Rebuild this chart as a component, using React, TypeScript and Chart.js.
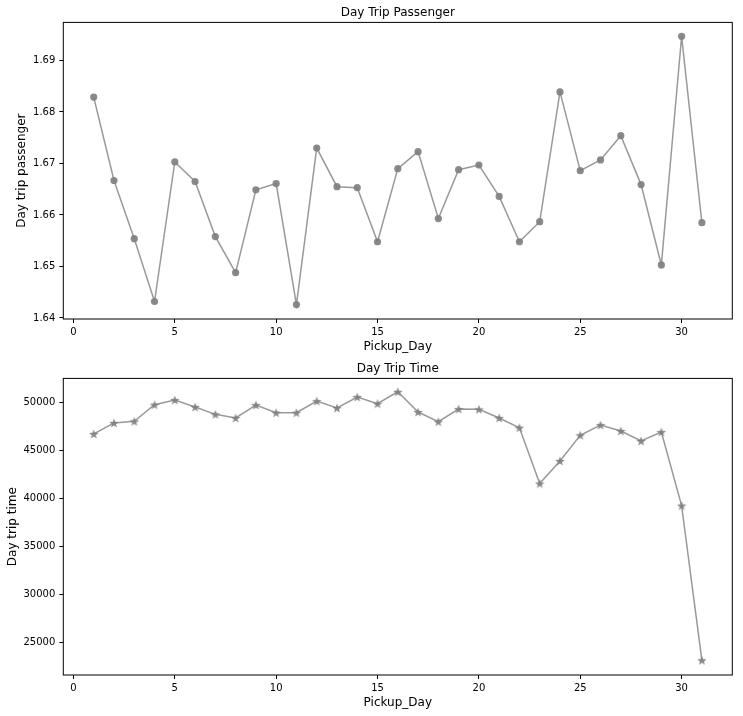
import React, { useEffect, useRef } from 'react';
import { Chart, registerables } from 'chart.js';

Chart.register(...registerables);

const days = [
  1, 2, 3, 4, 5, 6, 7, 8, 9, 10, 11, 12, 13, 14, 15, 16,
  17, 18, 19, 20, 21, 22, 23, 24, 25, 26, 27, 28, 29, 30, 31
];

const passengerValues = [
  1.6829, 1.6667, 1.6554, 1.6432, 1.6703, 1.6665, 1.6558, 1.6488,
  1.6649, 1.6661, 1.6426, 1.6730, 1.6655, 1.6653, 1.6548, 1.6690,
  1.6723, 1.6593, 1.6688, 1.6697, 1.6636, 1.6548, 1.6587, 1.6839,
  1.6686, 1.6707, 1.6754, 1.6659, 1.6503, 1.6947, 1.6585
];

const tripTimeValues = [
  46680, 47820, 47990, 49720, 50210, 49480, 48720, 48340,
  49690, 48890, 48890, 50100, 49380, 50520, 49830, 51070,
  48960, 47960, 49270, 49240, 48340, 47330, 41520, 43870,
  46540, 47610, 46990, 45950, 46880, 39230, 23130
];

const dayTicks = [0, 5, 10, 15, 20, 25, 30];
const passengerTicks = [1.64, 1.65, 1.66, 1.67, 1.68, 1.69];
const tripTimeTicks = [25000, 30000, 35000, 40000, 45000, 50000];

const LINE_GREY = 'rgba(128, 128, 128, 0.8)';
const MARK_GREY = 'rgba(128, 128, 128, 0.92)';
const FONT = "'DejaVu Sans', sans-serif";

// matplotlib style filled star marker
function makeStar(size: number, color: string): HTMLCanvasElement {
  const c = document.createElement('canvas');
  c.width = size;
  c.height = size;
  const ctx = c.getContext('2d')!;
  const cx = size / 2;
  const cy = size / 2 + 0.5;
  const outer = size / 2;
  const inner = outer * 0.42;
  ctx.beginPath();
  for (let i = 0; i < 10; i++) {
    const r = i % 2 === 0 ? outer : inner;
    const a = -Math.PI / 2 + (i * Math.PI) / 5;
    const px = cx + r * Math.cos(a);
    const py = cy + r * Math.sin(a);
    if (i === 0) ctx.moveTo(px, py);
    else ctx.lineTo(px, py);
  }
  ctx.closePath();
  ctx.fillStyle = color;
  ctx.fill();
  return c;
}

// box round the plot area, like matplotlib spines
const frameBox = {
  id: 'frameBox',
  afterDraw(chart: Chart) {
    const { ctx, chartArea: a } = chart;
    ctx.save();
    ctx.strokeStyle = '#000';
    ctx.lineWidth = 1;
    ctx.strokeRect(a.left, a.top, a.right - a.left, a.bottom - a.top);
    ctx.restore();
  }
};

interface Props {
  title: string;
  yLabel: string;
  values: number[];
  yTicks: number[];
  yMin: number;
  yMax: number;
  yTitlePad: number;
  decimals: number;
  marker: 'circle' | 'star';
  height: number;
  bottomPad: number;
}

const DayChart: React.FC<Props> = ({
  title, yLabel, values, yTicks, yMin, yMax, yTitlePad, decimals, marker, height, bottomPad
}) => {
  const canvasRef = useRef<HTMLCanvasElement>(null);

  useEffect(() => {
    if (!canvasRef.current) return;
    const pointStyle = marker === 'star' ? makeStar(10, MARK_GREY) : 'circle';

    const chart = new Chart(canvasRef.current, {
      type: 'line',
      data: {
        datasets: [{
          data: days.map((d, i) => ({ x: d, y: values[i] })),
          borderColor: LINE_GREY,
          borderWidth: 1.5,
          backgroundColor: MARK_GREY,
          pointBackgroundColor: MARK_GREY,
          pointBorderWidth: 0,
          pointRadius: 3.6,
          pointStyle: pointStyle as any,
          tension: 0,
          fill: false
        }]
      },
      options: {
        responsive: false,
        animation: false,
        events: [],
        layout: { padding: { top: 0, left: 0, right: 10.7, bottom: bottomPad } },
        plugins: {
          legend: { display: false },
          tooltip: { enabled: false },
          title: {
            display: true,
            text: title,
            fullSize: false,
            color: '#000',
            font: { family: FONT, size: 12, weight: 'normal' },
            padding: { top: 6, bottom: 2 }
          }
        },
        scales: {
          x: {
            type: 'linear',
            min: -0.5,
            max: 32.5,
            border: { display: false },
            grid: { drawOnChartArea: false, tickLength: 4, tickColor: '#000' },
            afterBuildTicks: (axis: any) => {
              axis.ticks = dayTicks.map(v => ({ value: v }));
            },
            afterFit: (axis: any) => {
              axis.height = 37;
            },
            ticks: {
              color: '#000',
              padding: 3,
              maxRotation: 0,
              font: { family: FONT, size: 10 },
              callback: (v: any) => String(v)
            },
            title: {
              display: true,
              text: 'Pickup_Day',
              color: '#000',
              font: { family: FONT, size: 12 },
              padding: { top: 0, bottom: 2 }
            }
          },
          y: {
            type: 'linear',
            min: yMin,
            max: yMax,
            border: { display: false },
            grid: { drawOnChartArea: false, tickLength: 4, tickColor: '#000' },
            afterBuildTicks: (axis: any) => {
              axis.ticks = yTicks.map(v => ({ value: v }));
            },
            afterFit: (axis: any) => {
              axis.width = 63.3;
            },
            ticks: {
              color: '#000',
              padding: 4,
              font: { family: FONT, size: 10 },
              callback: (v: any) => Number(v).toFixed(decimals)
            },
            title: {
              display: true,
              text: yLabel,
              color: '#000',
              font: { family: FONT, size: 12 },
              padding: { top: yTitlePad, bottom: 0 }
            }
          }
        }
      },
      plugins: [frameBox]
    });

    return () => {
      chart.destroy();
    };
  }, [title, yLabel, values, yTicks, yMin, yMax, yTitlePad, decimals, marker, bottomPad]);

  return <canvas ref={canvasRef} width={743} height={height} style={{ display: 'block' }} />;
};

export default function App() {
  useEffect(() => {
    document.body.style.margin = '0';
  }, []);

  return (
    <div style={{ position: 'relative', width: 743, height: 716, background: '#fff' }}>
      <div style={{ position: 'absolute', left: 0, top: 0 }}>
        <DayChart
          title="Day Trip Passenger"
          yLabel="Day trip passenger"
          values={passengerValues}
          yTicks={passengerTicks}
          yMin={1.6398}
          yMax={1.6974}
          yTitlePad={14.5}
          decimals={2}
          marker="circle"
          height={356}
          bottomPad={0}
        />
      </div>
      <div style={{ position: 'absolute', left: 0, top: 356 }}>
        <DayChart
          title="Day Trip Time"
          yLabel="Day trip time"
          values={tripTimeValues}
          yTicks={tripTimeTicks}
          yMin={21600}
          yMax={52460}
          yTitlePad={5.5}
          decimals={0}
          marker="star"
          height={360}
          bottomPad={4}
        />
      </div>
    </div>
  );
}
